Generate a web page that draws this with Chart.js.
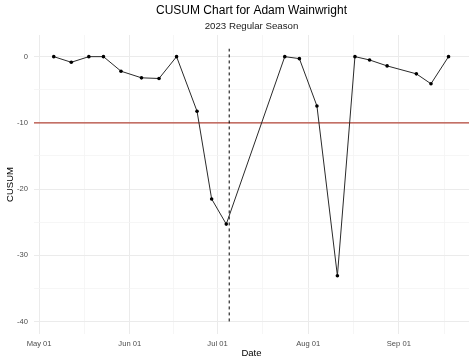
<!DOCTYPE html>
<html>
<head>
<meta charset="utf-8">
<script src="https://cdn.jsdelivr.net/npm/chart.js@4"></script>
<style>
html,body{margin:0;padding:0;background:#fff;}
#wrap{width:474px;height:364px;position:relative;}
</style>
</head>
<body>
<div id="wrap"><canvas id="c" width="474" height="364"></canvas></div>
<script>
// ---- data ----
const gameDates = ["2023-05-06","2023-05-12","2023-05-18","2023-05-23","2023-05-29","2023-06-05","2023-06-11","2023-06-17","2023-06-24","2023-06-29","2023-07-04","2023-07-24","2023-07-29","2023-08-04","2023-08-11","2023-08-17","2023-08-22","2023-08-28","2023-09-07","2023-09-12","2023-09-18"];
const cusumValues = [0, -0.85, 0, 0, -2.2, -3.2, -3.3, 0, -8.25, -21.5, -25.3, 0, -0.3, -7.45, -33.1, 0, -0.5, -1.4, -2.6, -4.1, 0];
const thresholdValue = -10;
const markerDate = "2023-07-05";
const markerRange = [-40, 1.2];
const xTickDates = ["2023-05-01","2023-06-01","2023-07-01","2023-08-01","2023-09-01"];
const xTickLabels = ["May 01","Jun 01","Jul 01","Aug 01","Sep 01"];
const yTickValues = [0, -10, -20, -30, -40];
const titleText = "CUSUM Chart for Adam Wainwright";
const subtitleText = "2023 Regular Season";
const xTitle = "Date";
const yTitle = "CUSUM";

// ---- helpers ----
const origin = Date.UTC(2023, 4, 1);
function dayOf(s){ const p = s.split("-").map(Number); return (Date.UTC(p[0], p[1]-1, p[2]) - origin) / 86400000; }
const xMajor = xTickDates.map(dayOf);
const xMinor = [];
for (let i = 0; i < xMajor.length - 1; i++) xMinor.push((xMajor[i] + xMajor[i+1]) / 2);
xMinor.push(xMajor[xMajor.length-1] + (xMajor[xMajor.length-1] - xMajor[xMajor.length-2]) / 2);
const yMinor = [];
for (let i = 0; i < yTickValues.length - 1; i++) yMinor.push((yTickValues[i] + yTickValues[i+1]) / 2);

const pts = gameDates.map((d, i) => ({x: dayOf(d), y: cusumValues[i]}));
const xMin = -1.75, xMax = 147;
const mk = dayOf(markerDate);

const FONT = "'Liberation Sans', Arial, sans-serif";

const textPlugin = {
  id: 'texts',
  afterDraw(chart) {
    const ctx = chart.ctx, a = chart.chartArea;
    const cx = (a.left + a.right) / 2;
    ctx.save();
    ctx.fillStyle = '#000';
    ctx.textAlign = 'center';
    ctx.textBaseline = 'middle';
    ctx.font = '12px ' + FONT;
    ctx.fillText(titleText, cx, 11);
    ctx.font = '9.7px ' + FONT;
    ctx.fillStyle = '#1a1a1a';
    ctx.fillText(subtitleText, cx, 26.5);
    ctx.fillStyle = '#000';
    ctx.font = '9.5px ' + FONT;
    ctx.fillText(xTitle, cx, 353);
    ctx.translate(10, (a.top + a.bottom) / 2);
    ctx.rotate(-Math.PI / 2);
    ctx.fillText(yTitle, 0, 0);
    ctx.restore();
  }
};

new Chart(document.getElementById('c'), {
  type: 'line',
  data: {
    datasets: [
      {
        label: 'threshold',
        data: [{x: xMin, y: thresholdValue}, {x: xMax, y: thresholdValue}],
        borderColor: '#b5473a',
        borderWidth: 1.1,
        pointRadius: 0,
        order: 3
      },
      {
        label: 'marker',
        data: [{x: mk, y: markerRange[0]}, {x: mk, y: markerRange[1]}],
        borderColor: '#000',
        borderWidth: 1,
        borderDash: [3, 3],
        pointRadius: 0,
        order: 2
      },
      {
        label: 'CUSUM',
        data: pts,
        borderColor: '#2a2a2a',
        borderWidth: 1,
        pointRadius: 1.8,
        pointBackgroundColor: '#000',
        pointBorderWidth: 0,
        tension: 0,
        order: 1
      }
    ]
  },
  options: {
    responsive: false,
    animation: false,
    layout: {padding: {top: 35, left: 0, right: 5, bottom: 0}},
    plugins: {legend: {display: false}, tooltip: {enabled: false}, title: {display: false}},
    scales: {
      x: {
        type: 'linear',
        min: xMin, max: xMax,
        border: {display: false},
        afterFit: s => { s.height = 30; },
        afterBuildTicks: s => { s.ticks = xMajor.concat(xMinor).sort((a,b)=>a-b).map(v => ({value: v})); },
        grid: {
          drawTicks: false,
          color: ctx => xMajor.includes(ctx.tick && ctx.tick.value) ? '#ebebeb' : '#f4f4f4',
          lineWidth: ctx => xMajor.includes(ctx.tick && ctx.tick.value) ? 1 : 0.8
        },
        ticks: {
          autoSkip: false, maxRotation: 0, padding: 5,
          color: '#4d4d4d',
          font: {family: FONT, size: 7.6},
          callback: v => { const i = xMajor.indexOf(v); return i >= 0 ? xTickLabels[i] : ''; }
        }
      },
      y: {
        type: 'linear',
        min: -41.9, max: 3.27,
        border: {display: false},
        afterFit: s => { s.width = 34; },
        afterBuildTicks: s => { s.ticks = yTickValues.concat(yMinor).sort((a,b)=>a-b).map(v => ({value: v})); },
        grid: {
          drawTicks: false,
          color: ctx => yTickValues.includes(ctx.tick && ctx.tick.value) ? '#ebebeb' : '#f4f4f4',
          lineWidth: ctx => yTickValues.includes(ctx.tick && ctx.tick.value) ? 1 : 0.8
        },
        ticks: {
          autoSkip: false, padding: 6,
          color: '#4d4d4d',
          font: {family: FONT, size: 7.6},
          callback: v => yTickValues.includes(v) ? String(v) : ''
        }
      }
    }
  },
  plugins: [textPlugin]
});
</script>
</body>
</html>
